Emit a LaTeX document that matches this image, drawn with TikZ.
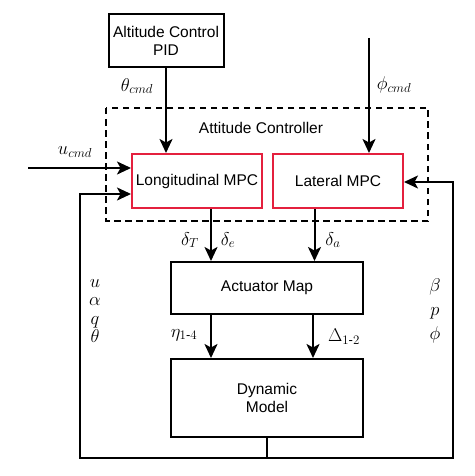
\RequirePackage{fix-cm}
\documentclass[tikz,border=0pt]{standalone}
\usepackage{amsmath}
\usepackage{amssymb}
\usepackage[no-math]{fontspec}
\setmainfont{Liberation Sans}
\usetikzlibrary{arrows.meta,positioning,calc}
\definecolor{mpcred}{RGB}{228,32,62}
\DeclareMathSizes{15.5}{18.5}{13}{9}

\begin{document}
\begin{tikzpicture}[x=1pt, y=-1pt,
    font=\fontsize{15.5}{18}\selectfont,
    blk/.style = {draw, line width=2pt, align=center, inner sep=0pt},
    mpc/.style = {blk, draw=mpcred, minimum width=130pt, minimum height=54pt},
    sig/.style = {-{Stealth[length=14pt,width=13pt,inset=3.5pt]}, line width=2pt},
    wire/.style = {line width=2pt},
    lbl/.style = {inner sep=0pt}]
  \useasboundingbox (0,0) rectangle (474,476);

  \node[blk, minimum width=115pt, minimum height=53pt] (pid) at (166,40.5) {Altitude Control\\PID};
  \node[mpc] (lon) at (197,181) {Longitudinal MPC};
  \node[mpc, right=9pt of lon] (lat) {Lateral MPC};
  \node[blk, minimum width=192pt, minimum height=52pt] (act) at (267,288) {Actuator Map};
  \node[blk, minimum width=192pt, minimum height=78pt, below=43pt of act] (dyn) {Dynamic\\Model};

  % attitude controller frame
  \draw[wire, dash pattern=on 6.5pt off 4.5pt] (106,108) rectangle (428,221);
  \node[lbl] (att) at (261,128) {Attitude Controller};

  \coordinate (phin) at (369,38);
  \coordinate (uin) at (28,168);
  \coordinate (fb) at ($(dyn.south)+(0,20)$);
  \coordinate (fbl) at (80,194);
  \coordinate (fbr) at (453,182);

  \draw[sig] (pid.south) -- (pid.south |- lon.north);
  \draw[sig] (phin) -- (phin |- lat.north);
  \draw[sig] (uin) -- (lon.west |- uin);
  \draw[sig] ([xshift=14pt]lon.south) -- ([xshift=14pt]lon.south |- act.north);
  \draw[sig] ([xshift=-23.5pt]lat.south) -- ([xshift=-23.5pt]lat.south |- act.north);
  \draw[sig] ([xshift=-56pt]act.south) -- ([xshift=-56pt]act.south |- dyn.north);
  \draw[sig] ([xshift=46pt]act.south) -- ([xshift=46pt]act.south |- dyn.north);

  % feedback
  \draw[wire] (dyn.south) -- (fb);
  \draw[sig] (fb) -| (fbl) -- (lon.west |- fbl);
  \draw[sig] (fb) -| (fbr) -- (lat.east |- fbr);

  \node[lbl] (th) at (137,86) {$\theta_{cmd}$};
  \node[lbl] (ph) at (394,85) {$\phi_{cmd}$};
  \node[lbl] (uc) at (75,152) {$u_{cmd}$};
  \node[lbl] (dT) at (190,240) {$\delta_T$};
  \node[lbl] (de) at (228,240) {$\delta_e$};
  \node[lbl] (da) at (333,240) {$\delta_a$};
  \node[lbl] (eta) at (184,335) {$\eta_{1\text{-}4}$};
  \node[lbl] (Del) at (344,337) {$\Delta_{1\text{-}2}$};

  \node[lbl, align=center, font=\fontsize{15.5}{18.5}\selectfont] (ls) at (95,311)
    {$u$\\$\alpha$\\$q$\\$\theta$};
  \node[lbl, align=center, font=\fontsize{15.5}{24}\selectfont] (rs) at (435,311)
    {$\beta$\\$p$\\$\phi$};
\end{tikzpicture}
\end{document}
